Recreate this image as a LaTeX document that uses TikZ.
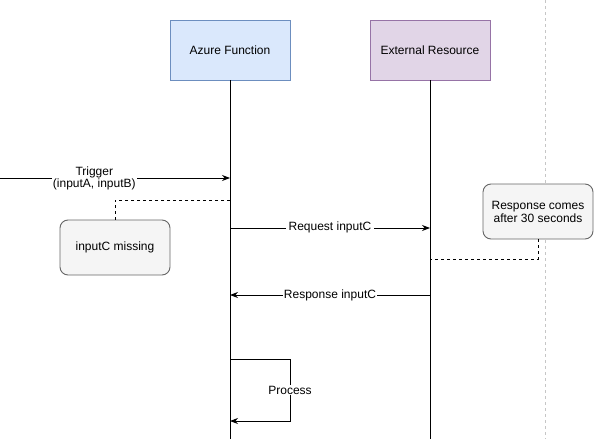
\documentclass[tikz,border=0pt]{standalone}
\usepackage{fontspec}
\setmainfont{Liberation Sans}
\usetikzlibrary{arrows.meta}
\definecolor{azfill}{HTML}{DAE8FC}
\definecolor{azline}{HTML}{6C8EBF}
\definecolor{exfill}{HTML}{E1D5E7}
\definecolor{exline}{HTML}{9673A6}
\definecolor{notefill}{HTML}{F5F5F5}
\definecolor{noteline}{HTML}{666666}
\begin{document}
\begin{tikzpicture}[x=1pt,y=-1pt,
  font=\fontsize{12}{14}\selectfont,
  actor/.style={draw, line width=0.9pt, minimum width=120pt, minimum height=60pt, inner sep=0pt},
  note/.style={draw=noteline, fill=notefill, rounded corners=8pt, line width=0.9pt, align=center, inner sep=0pt},
  msg/.style={line width=0.8pt, -{Stealth[length=8pt,width=6pt]}},
  lbl/.style={fill=white, align=center, inner sep=1pt},
  dashline/.style={line width=0.8pt, dash pattern=on 3pt off 3pt},
  life/.style={line width=0.8pt}]
\useasboundingbox (0,0) rectangle (594,439);
\draw[gray!45, line width=0.8pt, dash pattern=on 3pt off 3pt] (545,0) -- (545,439);
\node[actor, draw=azline, fill=azfill] (az) at (230,50) {Azure Function};
\node[actor, draw=exline, fill=exfill] (ex) at (430,50) {External Resource};
\coordinate (azend) at (230,439);
\coordinate (exend) at (430,439);
\draw[life] (az.south) -- (azend);
\draw[life] (ex.south) -- (exend);
% trigger
\coordinate (trgstart) at (0,178);
\coordinate (trgend) at (230,178);
\draw[msg] (trgstart) -- node[lbl, pos=0.41] (trglbl) {Trigger\\[-2pt](inputA, inputB)} (trgend);
% inputC missing note
\node[note, minimum width=110pt, minimum height=55pt] (miss) at (115,247.5) {inputC missing};
\coordinate (missanchor) at (230,200);
\draw[dashline] (missanchor) -| (miss.north);
% request
\coordinate (reqs) at (230,228);
\coordinate (reqe) at (430,228);
\draw[msg] (reqs) -- node[lbl, fill=none, inner sep=0pt] (reqlbl) {\colorbox{white}{\strut Request inputC}} (reqe);
% response note
\node[note, minimum width=110pt, minimum height=55pt] (resp) at (538,211.5) {Response comes\\[-1pt]after 30 seconds};
\coordinate (respanchor) at (430,259);
\draw[dashline] (resp.south) |- (respanchor);
% response
\coordinate (rss) at (430,295);
\coordinate (rse) at (230,295);
\draw[msg] (rss) -- node[lbl] (rslbl) {Response inputC} (rse);
% process
\coordinate (ps) at (230,359);
\coordinate (pc1) at (290,359);
\coordinate (pc2) at (290,421);
\coordinate (pe) at (230,421);
\draw[msg] (ps) -- (pc1) -- (pc2) -- (pe);
\node[lbl] (plbl) at (290,390) {Process};
\end{tikzpicture}
\end{document}
